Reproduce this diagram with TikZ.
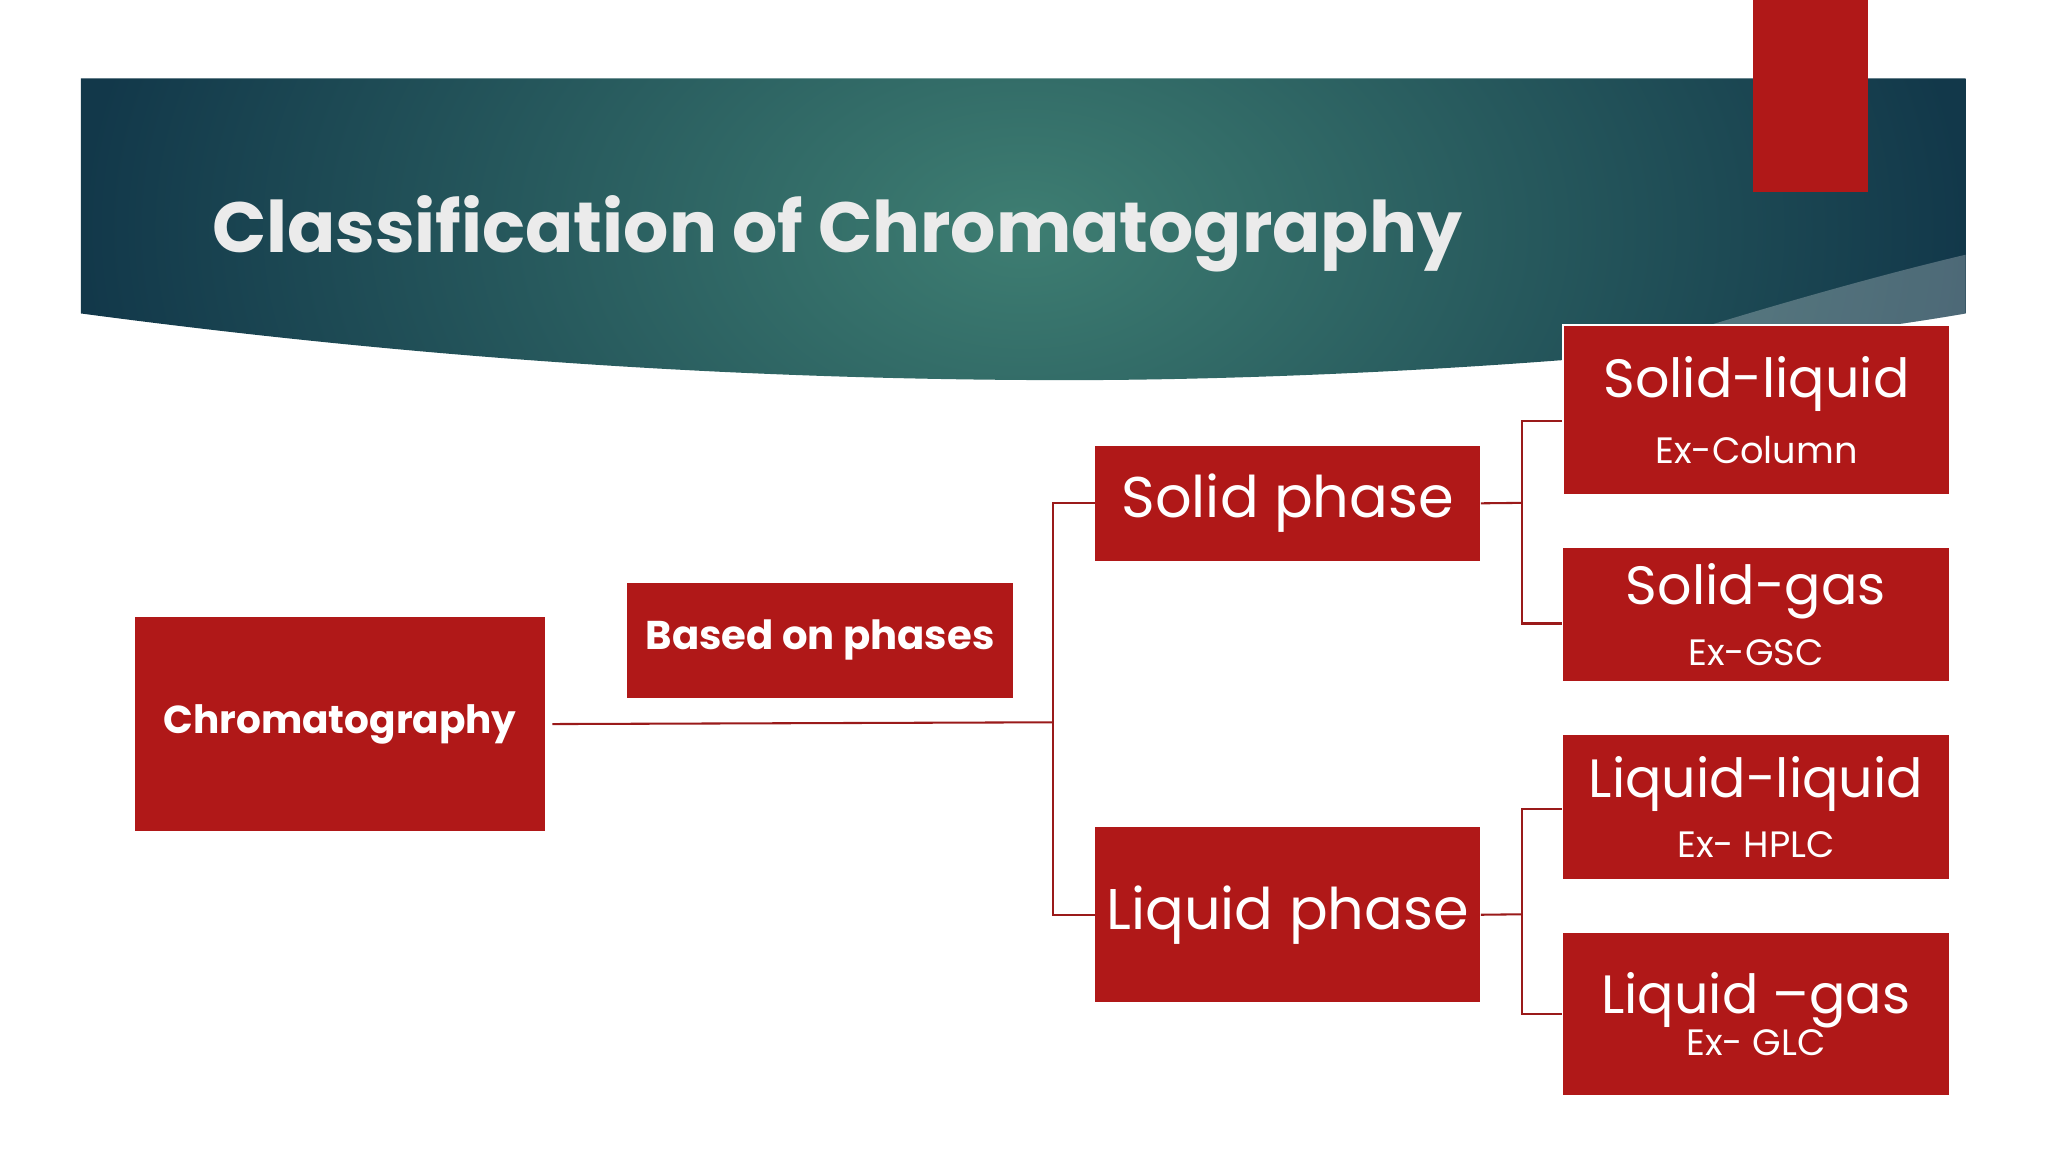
\documentclass[tikz,border=0pt]{standalone}
\usepackage{fontspec}
\setmainfont{Poppins}
\definecolor{boxred}{HTML}{B01818}
\definecolor{linered}{HTML}{9A1A1A}
\definecolor{tealin}{HTML}{3E7E72}
\definecolor{tealout}{HTML}{12384A}
\begin{document}
\begin{tikzpicture}[x=0.02cm,y=-0.02cm,
  rbox/.style={fill=boxred,text=white,inner sep=0pt,anchor=north west,align=center},
  conn/.style={draw=linered,line width=0.9pt}]
\useasboundingbox (0,0) rectangle (1568,882);
\fill[white] (0,0) rectangle (1568,882);
% banner
\begin{scope}
\clip (62,60) -- (1505,60) -- (1505,240) .. controls (1300,275) and (1000,292) .. (800,291) .. controls (500,290) and (250,265) .. (62,240) -- cycle;
\shade[inner color=tealin,outer color=tealout] (62,-300) rectangle (1505,650);
\fill[white,opacity=0.25] (1180,290) .. controls (1300,250) and (1420,215) .. (1505,195) -- (1505,300) -- cycle;
\end{scope}
\fill[boxred] (1342,0) rectangle (1430,147);
\node[anchor=base west,text=white!92!black,font=\fontsize{31}{31}\selectfont\bfseries,inner sep=0pt] (title) at (162,193) {Classification of Chromatography};
% boxes
\node[rbox,minimum width=314*0.02cm,minimum height=164*0.02cm,font=\fontsize{17}{20}\selectfont\bfseries] (chrom) at (103,472) {Chromatography};
\node[rbox,minimum width=295*0.02cm,minimum height=88*0.02cm,font=\fontsize{17.5}{20}\selectfont\bfseries] (based) at (480,446) {Based on phases};
\node[rbox,minimum width=295*0.02cm,minimum height=88*0.02cm,font=\fontsize{25}{28}\selectfont] (solid) at (838,341) {Solid phase};
\node[rbox,minimum width=295*0.02cm,minimum height=134*0.02cm,font=\fontsize{25}{28}\selectfont] (liquid) at (838,633) {Liquid phase};
\node[rbox,draw=white,line width=1pt,minimum width=296*0.02cm,minimum height=130*0.02cm] (sl) at (1196,248) {\fontsize{23.5}{26}\selectfont Solid-liquid\\[10pt]\fontsize{16}{18}\selectfont Ex-Column};
\node[rbox,minimum width=296*0.02cm,minimum height=102*0.02cm] (sg) at (1196,419) {\fontsize{23.5}{26}\selectfont Solid-gas\\[8pt]\fontsize{16}{18}\selectfont Ex-GSC};
\node[rbox,minimum width=296*0.02cm,minimum height=111*0.02cm] (ll) at (1196,562) {\fontsize{23.5}{26}\selectfont Liquid-liquid\\[8pt]\fontsize{16}{18}\selectfont Ex- HPLC};
\node[rbox,minimum width=296*0.02cm,minimum height=124*0.02cm] (lg) at (1196,714) {\fontsize{23.5}{26}\selectfont Liquid –gas\\[0pt]\fontsize{16}{18}\selectfont Ex- GLC};
% connectors
\coordinate (j1) at (806,553);
\coordinate (j2) at (1165,385);
\coordinate (j3) at (1165,700);
\draw[conn] ([xshift=3pt]chrom.east) -- (j1);
\draw[conn] (solid.west) -- ++(-32,0) |- (liquid.west);
\draw[conn] (solid.east) -- (j2);
\draw[conn] ([yshift=-5pt]sl.west) -| (j2) |- ([yshift=-4pt]sg.west);
\draw[conn] (liquid.east) -- (j3);
\draw[conn] ([yshift=-1pt]ll.west) -| (j3) |- (lg.west);
\end{tikzpicture}
\end{document}
